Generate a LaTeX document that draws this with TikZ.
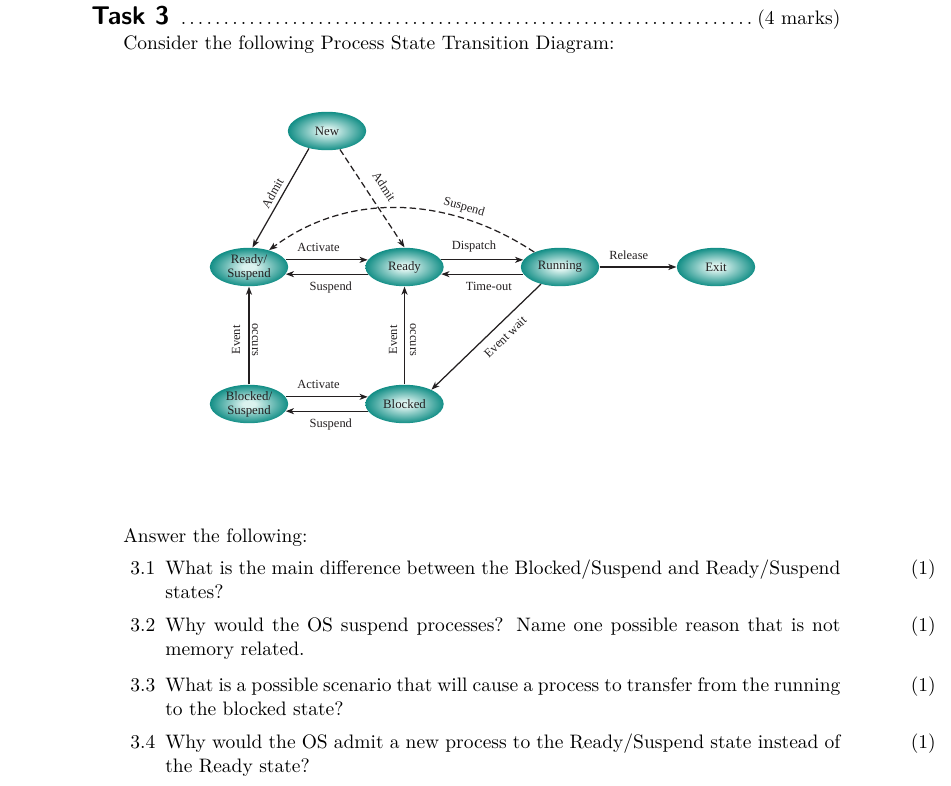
\documentclass[tikz,border=0pt]{standalone}
\usepackage{fontspec}
\newfontfamily\diafont{Liberation Serif}
\usetikzlibrary{arrows.meta,shapes.geometric}
\definecolor{tealin}{RGB}{218,242,238}
\definecolor{tealmid}{RGB}{18,142,134}
\definecolor{tealout}{RGB}{0,118,112}
\definecolor{ink}{RGB}{35,31,32}
\pgfdeclareradialshading{stateball}{\pgfpoint{0bp}{0bp}}{color(0bp)=(tealin); color(4bp)=(tealin); color(25bp)=(tealmid); color(50bp)=(tealout)}
\tikzset{
  st/.style={ellipse, minimum width=44pt, minimum height=21.6pt, inner sep=0.3pt,
    shading=stateball, align=center, font=\diafont\fontsize{7.2}{7.9}\selectfont, text=ink},
  arr/.style={draw=ink, line width=0.7pt, -{Stealth[length=4.6pt, width=3.4pt, inset=1.3pt]}},
  dsh/.style={dash pattern=on 3.6pt off 1.9pt},
  lab/.style={font=\diafont\fontsize{7}{8}\selectfont, text=ink, inner sep=2pt},
  body/.style={font=\fontsize{10.95}{13.6}\selectfont, inner sep=0, anchor=base west},
}
\begin{document}
\begin{tikzpicture}[x=0.5618pt, y=-0.5618pt]
\useasboundingbox (0,0) rectangle (951,786);

% header
\node[body] (task) at (91,25) {\makebox[420.8pt]{{\Large\sffamily\bfseries Task 3}\ \dotfill(4 marks)}};
\node[body] (intro) at (123,49.5) {Consider the following Process State Transition Diagram:};

% states
\node[st] (new) at (327,131) {New};
\node[st] (rs) at (249,267) {Ready/\\Suspend};
\node[st] (rd) at (404.5,267) {Ready};
\node[st] (run) at (560,267) {Running};
\node[st] (ex) at (716,267) {Exit};
\node[st] (bs) at (249,404) {Blocked/\\Suspend};
\node[st] (bl) at (404.5,404) {Blocked};

% transitions
\draw[arr] (new.224) -- node[lab, sloped, above=0.5pt] {Admit} (rs.80);
\draw[arr, dsh] (new.305) -- node[lab, sloped, above=4.5pt, pos=0.47] {Admit} (rd.north);
\draw[arr, dsh] (run.150) .. controls (451,197) and (350,190) .. node[lab, pos=0.28, sloped, above=0.5pt] {Suspend} (rs.40);
\draw[arr] (rs.11) -- node[lab, above=2pt, pos=0.4] {Activate} (rd.169);
\draw[arr] (rd.191) -- node[lab, below=2pt, pos=0.45] {Suspend} (rs.349);
\draw[arr] (rd.11) -- node[lab, above=2pt, pos=0.4] {Dispatch} (run.169);
\draw[arr] (run.191) -- node[lab, below=2pt, pos=0.42] {Time-out} (rd.349);
\draw[arr] (run) -- node[lab, above=2pt, pos=0.38] {Release} (ex);
\draw[arr] (run.222) -- node[lab, sloped, below=2.8pt, pos=0.41] {Event wait} (bl.28);
\draw[arr] (bs.11) -- node[lab, above=2pt, pos=0.4] {Activate} (bl.169);
\draw[arr] (bl.191) -- node[lab, below=2pt, pos=0.45] {Suspend} (bs.349);
\draw[arr] (bs.north) -- node[lab, pos=0.455, sloped, above=2.6pt] {Event}
  node[lab, pos=0.455, rotate=-90, anchor=south, inner sep=1.3pt] {occurs} (rs.south);
\draw[arr] (bl.north) -- node[lab, pos=0.455, sloped, above=1.8pt] {Event}
  node[lab, pos=0.455, rotate=-90, anchor=south, inner sep=2.8pt] {occurs} (rd.south);

% questions
\node[body] (ans) at (123,542.5) {Answer the following:};

\node[body] (q1n) at (130,574.5) {3.1};
\node[body] (q1a) at (165,574.5) {\makebox[379.2pt][s]{What is the main difference between the Blocked/Suspend and Ready/Suspend}};
\node[body] (q1b) at (165,598.5) {states?};
\node[body, anchor=base east] (q1m) at (936,574.5) {(1)};

\node[body] (q2n) at (130,631.5) {3.2};
\node[body] (q2a) at (165,631.5) {\makebox[379.2pt][s]{Why would the OS suspend processes? Name one possible reason that is not}};
\node[body] (q2b) at (165,655.5) {memory related.};
\node[body, anchor=base east] (q2m) at (936,631.5) {(1)};

\node[body] (q3n) at (130,691.5) {3.3};
\node[body] (q3a) at (165,691.5) {\makebox[379.2pt][s]{What is a possible scenario that will cause a process to transfer from the running}};
\node[body] (q3b) at (165,715.5) {to the blocked state?};
\node[body, anchor=base east] (q3m) at (936,691.5) {(1)};

\node[body] (q4n) at (130,748.5) {3.4};
\node[body] (q4a) at (165,748.5) {\makebox[379.2pt][s]{Why would the OS admit a new process to the Ready/Suspend state instead of}};
\node[body] (q4b) at (165,772.5) {the Ready state?};
\node[body, anchor=base east] (q4m) at (936,748.5) {(1)};
\end{tikzpicture}
\end{document}
